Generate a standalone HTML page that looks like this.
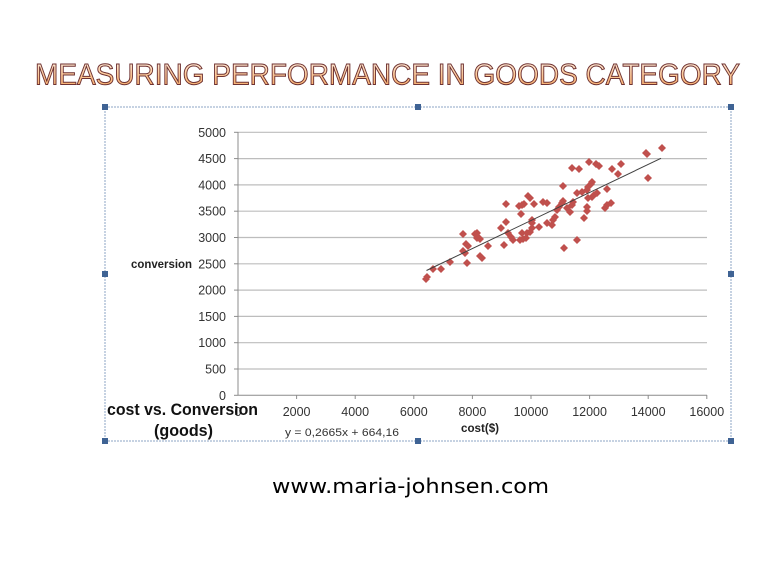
<!DOCTYPE html>
<html><head><meta charset="utf-8"><style>
html,body{margin:0;padding:0;background:#fff;}
svg{display:block;}
</style></head><body>
<svg width="781" height="565" viewBox="0 0 781 565" xmlns="http://www.w3.org/2000/svg">
<defs>
<linearGradient id="tg" x1="0" y1="0" x2="0" y2="1">
<stop offset="0" stop-color="#fff4ea"/>
<stop offset="0.5" stop-color="#fcc898"/>
<stop offset="1" stop-color="#f5a35a"/>
</linearGradient>
</defs>
<rect width="781" height="565" fill="#fff"/>
<text x="35" y="84.5" font-family="Liberation Sans, sans-serif" font-size="30" fill="url(#tg)" stroke="#6e3232" stroke-width="1" textLength="705" lengthAdjust="spacingAndGlyphs">MEASURING PERFORMANCE IN GOODS CATEGORY</text>

<rect x="105" y="107" width="626" height="334" fill="none" stroke="#8ea4c4" stroke-width="1" stroke-dasharray="2,1"/>
<g fill="#3f6394">
<rect x="102" y="104" width="6" height="6"/><rect x="415" y="104" width="6" height="6"/><rect x="728" y="104" width="6" height="6"/>
<rect x="102" y="271" width="6" height="6"/><rect x="728" y="271" width="6" height="6"/>
<rect x="102" y="438" width="6" height="6"/><rect x="415" y="438" width="6" height="6"/><rect x="728" y="438" width="6" height="6"/>
</g>

<g stroke="#bdbdbd" stroke-width="1.2">
<line x1="238" y1="132.3" x2="707" y2="132.3"/>
<line x1="238" y1="158.6" x2="707" y2="158.6"/>
<line x1="238" y1="184.9" x2="707" y2="184.9"/>
<line x1="238" y1="211.2" x2="707" y2="211.2"/>
<line x1="238" y1="237.5" x2="707" y2="237.5"/>
<line x1="238" y1="263.8" x2="707" y2="263.8"/>
<line x1="238" y1="290.1" x2="707" y2="290.1"/>
<line x1="238" y1="316.4" x2="707" y2="316.4"/>
<line x1="238" y1="342.7" x2="707" y2="342.7"/>
<line x1="238" y1="369.0" x2="707" y2="369.0"/>
</g>
<g stroke="#8c8c8c" stroke-width="1">
<line x1="238" y1="132" x2="238" y2="395.3"/>
<line x1="238" y1="395.3" x2="707" y2="395.3"/>
<line x1="234" y1="132.3" x2="238" y2="132.3"/><line x1="234" y1="158.6" x2="238" y2="158.6"/>
<line x1="234" y1="184.9" x2="238" y2="184.9"/><line x1="234" y1="211.2" x2="238" y2="211.2"/>
<line x1="234" y1="237.5" x2="238" y2="237.5"/><line x1="234" y1="263.8" x2="238" y2="263.8"/>
<line x1="234" y1="290.1" x2="238" y2="290.1"/><line x1="234" y1="316.4" x2="238" y2="316.4"/>
<line x1="234" y1="342.7" x2="238" y2="342.7"/><line x1="234" y1="369.0" x2="238" y2="369.0"/>
<line x1="234" y1="395.3" x2="238" y2="395.3"/>
<line x1="296.6" y1="395" x2="296.6" y2="399"/><line x1="355.2" y1="395" x2="355.2" y2="399"/>
<line x1="413.8" y1="395" x2="413.8" y2="399"/><line x1="472.4" y1="395" x2="472.4" y2="399"/>
<line x1="531" y1="395" x2="531" y2="399"/><line x1="589.6" y1="395" x2="589.6" y2="399"/>
<line x1="648.2" y1="395" x2="648.2" y2="399"/><line x1="706.8" y1="395" x2="706.8" y2="399"/>
</g>

<g font-family="Liberation Sans, sans-serif" font-size="12.5" fill="#333" text-anchor="end">
<text x="226" y="136.8">5000</text><text x="226" y="163.1">4500</text>
<text x="226" y="189.4">4000</text><text x="226" y="215.7">3500</text>
<text x="226" y="242">3000</text><text x="226" y="268.3">2500</text>
<text x="226" y="294.6">2000</text><text x="226" y="320.9">1500</text>
<text x="226" y="347.2">1000</text><text x="226" y="373.5">500</text>
<text x="226" y="399.8">0</text>
</g>
<g font-family="Liberation Sans, sans-serif" font-size="12.5" fill="#333" text-anchor="middle">
<text x="238" y="416">0</text>
<text x="296.6" y="416">2000</text><text x="355.2" y="416">4000</text>
<text x="413.8" y="416">6000</text><text x="472.4" y="416">8000</text>
<text x="531" y="416">10000</text><text x="589.6" y="416">12000</text>
<text x="648.2" y="416">14000</text><text x="706.8" y="416">16000</text>
</g>

<text x="131" y="268" font-family="Liberation Sans, sans-serif" font-size="11.5" font-weight="bold" fill="#222" textLength="61" lengthAdjust="spacingAndGlyphs">conversion</text>
<text x="461" y="432" font-family="Liberation Sans, sans-serif" font-size="11.5" font-weight="bold" fill="#222" textLength="38" lengthAdjust="spacingAndGlyphs">cost($)</text>
<text x="285" y="436" font-family="Liberation Sans, sans-serif" font-size="11" fill="#333" textLength="114" lengthAdjust="spacingAndGlyphs">y = 0,2665x + 664,16</text>
<text x="107" y="415" font-family="Liberation Sans, sans-serif" font-size="16.5" font-weight="bold" fill="#111" textLength="151" lengthAdjust="spacingAndGlyphs">cost vs. Conversion</text>
<text x="154" y="436" font-family="Liberation Sans, sans-serif" font-size="16.5" font-weight="bold" fill="#111" textLength="59" lengthAdjust="spacingAndGlyphs">(goods)</text>

<path fill="#c0504d" d="M426 275l4 4-4 4-4-4zM427 273l4 4-4 4-4-4zM433 265l4 4-4 4-4-4zM441 265l4 4-4 4-4-4zM450 258l4 4-4 4-4-4zM467 259l4 4-4 4-4-4zM463 247l4 4-4 4-4-4zM465 249l4 4-4 4-4-4zM463 230l4 4-4 4-4-4zM466 240l4 4-4 4-4-4zM468 242l4 4-4 4-4-4zM475 230l4 4-4 4-4-4zM477 229l4 4-4 4-4-4zM478 233l4 4-4 4-4-4zM480 235l4 4-4 4-4-4zM477 234l4 4-4 4-4-4zM480 252l4 4-4 4-4-4zM482 254l4 4-4 4-4-4zM488 242l4 4-4 4-4-4zM501 224l4 4-4 4-4-4zM504 241l4 4-4 4-4-4zM506 218l4 4-4 4-4-4zM506 200l4 4-4 4-4-4zM508 229l4 4-4 4-4-4zM511 233l4 4-4 4-4-4zM513 236l4 4-4 4-4-4zM519 202l4 4-4 4-4-4zM522 201l4 4-4 4-4-4zM524 200l4 4-4 4-4-4zM521 210l4 4-4 4-4-4zM520 236l4 4-4 4-4-4zM523 235l4 4-4 4-4-4zM526 234l4 4-4 4-4-4zM522 229l4 4-4 4-4-4zM527 229l4 4-4 4-4-4zM528 192l4 4-4 4-4-4zM530 194l4 4-4 4-4-4zM532 219l4 4-4 4-4-4zM532 216l4 4-4 4-4-4zM532 224l4 4-4 4-4-4zM530 228l4 4-4 4-4-4zM534 200l4 4-4 4-4-4zM539 223l4 4-4 4-4-4zM543 198l4 4-4 4-4-4zM547 199l4 4-4 4-4-4zM547 219l4 4-4 4-4-4zM552 221l4 4-4 4-4-4zM553 216l4 4-4 4-4-4zM555 213l4 4-4 4-4-4zM557 206l4 4-4 4-4-4zM559 203l4 4-4 4-4-4zM562 199l4 4-4 4-4-4zM563 197l4 4-4 4-4-4zM563 182l4 4-4 4-4-4zM564 244l4 4-4 4-4-4zM567 204l4 4-4 4-4-4zM570 208l4 4-4 4-4-4zM572 201l4 4-4 4-4-4zM573 198l4 4-4 4-4-4zM572 164l4 4-4 4-4-4zM579 165l4 4-4 4-4-4zM577 236l4 4-4 4-4-4zM577 189l4 4-4 4-4-4zM582 188l4 4-4 4-4-4zM584 214l4 4-4 4-4-4zM587 207l4 4-4 4-4-4zM587 203l4 4-4 4-4-4zM587 186l4 4-4 4-4-4zM588 183l4 4-4 4-4-4zM591 180l4 4-4 4-4-4zM592 178l4 4-4 4-4-4zM588 194l4 4-4 4-4-4zM592 193l4 4-4 4-4-4zM594 191l4 4-4 4-4-4zM597 189l4 4-4 4-4-4zM589 158l4 4-4 4-4-4zM596 160l4 4-4 4-4-4zM599 162l4 4-4 4-4-4zM605 204l4 4-4 4-4-4zM607 201l4 4-4 4-4-4zM611 199l4 4-4 4-4-4zM607 185l4 4-4 4-4-4zM612 165l4 4-4 4-4-4zM618 170l4 4-4 4-4-4zM621 160l4 4-4 4-4-4zM646 149l4 4-4 4-4-4zM647 150l4 4-4 4-4-4zM648 174l4 4-4 4-4-4zM662 144l4 4-4 4-4-4z"/>
<line x1="426.5" y1="270.5" x2="661" y2="158.3" stroke="#404040" stroke-width="1"/>

<text x="272" y="493" font-family="DejaVu Sans, Liberation Sans, sans-serif" font-size="20" fill="#000" textLength="277" lengthAdjust="spacingAndGlyphs">www.maria-johnsen.com</text>
</svg>
</body></html>
